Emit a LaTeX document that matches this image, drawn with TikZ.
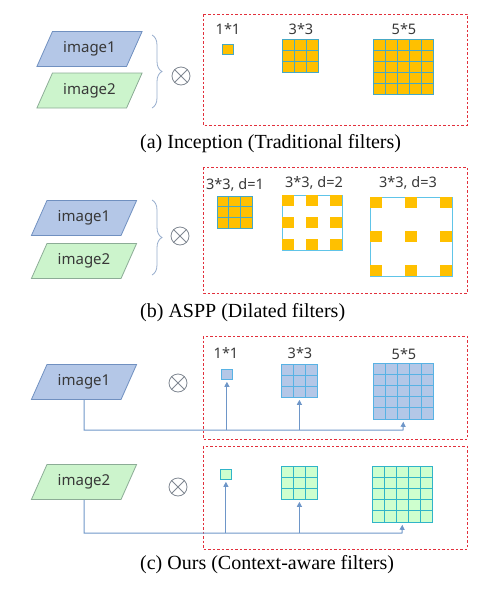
\documentclass[tikz,border=0pt]{standalone}
\usepackage{fontspec}
\setmainfont{Liberation Serif}
\newfontfamily\labfont{Noto Sans}
\usepackage{xcolor}
\usepackage{tikz}
\usetikzlibrary{arrows.meta,shapes.geometric,decorations.pathreplacing}

\definecolor{imgblue}{RGB}{180,199,231}
\definecolor{imgblueline}{RGB}{112,144,192}
\definecolor{imggreen}{RGB}{204,244,204}
\definecolor{imggreenline}{RGB}{140,172,150}
\definecolor{korange}{RGB}{255,192,0}
\definecolor{kteal}{RGB}{70,168,196}
\definecolor{kcyan}{RGB}{96,196,232}
\definecolor{kblueline}{RGB}{88,178,228}
\definecolor{kgreen}{RGB}{206,255,206}
\definecolor{kgreenline}{RGB}{48,180,200}
\definecolor{dashred}{RGB}{226,48,60}
\definecolor{connblue}{RGB}{110,150,200}
\definecolor{bracegray}{RGB}{150,172,204}
\definecolor{otgray}{RGB}{128,136,146}
\definecolor{labgray}{RGB}{56,56,56}

\tikzset{
 imgbox/.style={trapezium,trapezium left angle=53,trapezium right angle=127,
  trapezium stretches=true,minimum width=106pt,minimum height=35pt,
  inner sep=0pt,font=\labfont\fontsize{15}{17}\selectfont,text=labgray},
 imgA/.style={imgbox,draw=imgblueline,fill=imgblue,line width=.8pt},
 imgB/.style={imgbox,draw=imggreenline,fill=imggreen,line width=.8pt},
 kbox/.style={draw=#1,line width=.8pt,inner sep=0pt,anchor=north west},
 klab/.style={font=\labfont\fontsize{14.5}{16}\selectfont,text=labgray},
 panel/.style={draw=dashred,dash pattern=on 2.5pt off 2pt,line width=.7pt},
 otimes/.style={draw=otgray,circle,minimum size=18pt,inner sep=0pt,line width=.8pt},
 bracel/.style={draw=bracegray,line width=.8pt,decorate,decoration={brace,amplitude=10pt}},
 conn/.style={draw=connblue,line width=1pt},
 connarr/.style={conn,-{Triangle[width=5pt,length=5pt]},shorten >=2pt},
 caption/.style={anchor=west,inner sep=0pt,font=\fontsize{20}{23}\selectfont}
}

\begin{document}
\begin{tikzpicture}[x=1pt,y=-1pt]
 \useasboundingbox (0,0) rectangle (497,590);

 % (a) Inception
 \node[imgA] (aimg1) at (89.5,49) {image1};
 \node[imgB] (aimg2) at (89.5,90.5) {image2};
 \draw[bracel] (152,35) -- (152,108);
 \node[otimes] (aot) at (181,76) {};
 \draw[otgray,line width=.8pt] (aot.north west) -- (aot.south east) (aot.north east) -- (aot.south west);
 \draw[panel] (203,14) rectangle (467,125);
 \node[klab] (alab1) at (228,29) {1*1};
 \node[klab] (alab3) at (301,29) {3*3};
 \node[klab] (alab5) at (404,29) {5*5};
 \node[kbox=kteal,fill=korange,minimum width=11pt,minimum height=10pt] (a11) at (222,44) {};
 \node[kbox=kteal,fill=korange,minimum width=36pt,minimum height=33pt] (a33) at (282,39) {};
 \foreach \k in {1,2}
  \draw[kteal,line width=.8pt] (a33.north west) ++(12*\k,0) -- ++(0,33)
   (a33.north west) ++(0,11*\k) -- ++(36,0);
 \node[kbox=kteal,fill=korange,minimum width=60pt,minimum height=55pt] (a55) at (373,39) {};
 \foreach \k in {1,...,4}
  \draw[kteal,line width=.8pt] (a55.north west) ++(12*\k,0) -- ++(0,55)
   (a55.north west) ++(0,11*\k) -- ++(60,0);
 \node[caption] (acap) at (140,144) {(a) Inception (Traditional filters)};

 % (b) ASPP
 \node[imgA] (bimg1) at (84,218) {image1};
 \node[imgB] (bimg2) at (84,261) {image2};
 \draw[bracel] (152,200) -- (152,275);
 \node[otimes] (bot) at (180,236) {};
 \draw[otgray,line width=.8pt] (bot.north west) -- (bot.south east) (bot.north east) -- (bot.south west);
 \draw[panel] (203,167) rectangle (467,293);
 \node[klab] (blab1) at (235,185) {3*3, d=1};
 \node[klab] (blab2) at (314,183) {3*3, d=2};
 \node[klab] (blab3) at (408,183) {3*3, d=3};
 \node[kbox=kteal,fill=korange,minimum width=35pt,minimum height=32pt] (bd1) at (217,196) {};
 \foreach \k in {1,2}
  \draw[kteal,line width=.8pt] (bd1.north west) ++(11.67*\k,0) -- ++(0,32)
   (bd1.north west) ++(0,10.67*\k) -- ++(35,0);
 \node[kbox=kcyan,minimum width=60pt,minimum height=55pt] (bd2) at (282,195) {};
 \foreach \i in {0,2,4} \foreach \j in {0,2,4}
  \fill[korange] (bd2.north west) ++(12*\i,11*\j) rectangle ++(12,11);
 \node[kbox=kcyan,minimum width=82pt,minimum height=79pt] (bd3) at (370,197) {};
 \foreach \i in {0,3,6} \foreach \j in {0,3,6}
  \fill[korange] (bd3.north west) ++(11.71*\i,11.29*\j) rectangle ++(11.71,11.29);
 \node[caption] (bcap) at (140,313) {(b) ASPP (Dilated filters)};

 % (c) Ours
 \node[imgA] (cimg1) at (84,382) {image1};
 \node[otimes] (cot1) at (178,383) {};
 \draw[otgray,line width=.8pt] (cot1.north west) -- (cot1.south east) (cot1.north east) -- (cot1.south west);
 \draw[panel] (203,336) rectangle (467,439);
 \node[klab] (clab1) at (226,353) {1*1};
 \node[klab] (clab3) at (300,353) {3*3};
 \node[klab] (clab5) at (404,354) {5*5};
 \node[kbox=kblueline,fill=imgblue,minimum width=11pt,minimum height=10pt] (c11) at (221,369) {};
 \node[kbox=kblueline,fill=imgblue,minimum width=36pt,minimum height=33pt] (c33) at (281,364) {};
 \foreach \k in {1,2}
  \draw[kblueline,line width=.8pt] (c33.north west) ++(12*\k,0) -- ++(0,33)
   (c33.north west) ++(0,11*\k) -- ++(36,0);
 \node[kbox=kblueline,fill=imgblue,minimum width=60pt,minimum height=56pt] (c55) at (373,363) {};
 \foreach \k in {1,...,4}
  \draw[kblueline,line width=.8pt] (c55.north west) ++(12*\k,0) -- ++(0,56)
   (c55.north west) ++(0,11.2*\k) -- ++(60,0);
 \coordinate (cbus) at (403,430);
 \draw[connarr] (cimg1.south) |- (cbus) -- (c55.south);
 \draw[connarr] (c11.south |- cbus) -- (c11.south);
 \draw[connarr] (c33.south |- cbus) -- (c33.south);

 \node[imgB] (dimg2) at (84,482) {image2};
 \node[otimes] (dot2) at (178,487) {};
 \draw[otgray,line width=.8pt] (dot2.north west) -- (dot2.south east) (dot2.north east) -- (dot2.south west);
 \draw[panel] (203,446) rectangle (467,549);
 \node[kbox=kgreenline,fill=kgreen,minimum width=11pt,minimum height=10pt] (d11) at (220,469) {};
 \node[kbox=kgreenline,fill=kgreen,minimum width=36pt,minimum height=33pt] (d33) at (281,466) {};
 \foreach \k in {1,2}
  \draw[kgreenline,line width=.8pt] (d33.north west) ++(12*\k,0) -- ++(0,33)
   (d33.north west) ++(0,11*\k) -- ++(36,0);
 \node[kbox=kgreenline,fill=kgreen,minimum width=60pt,minimum height=56pt] (d55) at (372,466) {};
 \foreach \k in {1,...,4}
  \draw[kgreenline,line width=.8pt] (d55.north west) ++(12*\k,0) -- ++(0,56)
   (d55.north west) ++(0,11.2*\k) -- ++(60,0);
 \coordinate (dbus) at (402,533);
 \draw[connarr] (dimg2.south) |- (dbus) -- (d55.south);
 \draw[connarr] (d11.south |- dbus) -- (d11.south);
 \draw[connarr] (d33.south |- dbus) -- (d33.south);
 \node[caption] (ccap) at (140,565) {(c) Ours (Context-aware filters)};
\end{tikzpicture}
\end{document}
